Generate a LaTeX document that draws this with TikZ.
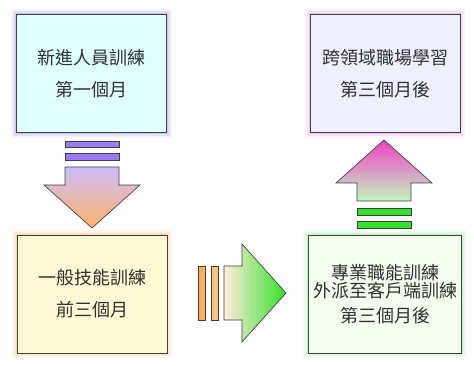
\documentclass[tikz,border=0pt]{standalone}
\usepackage{fontspec}
\usepackage{xcolor}
\usepackage{tikz}
\usetikzlibrary{positioning}
\newfontfamily\tcfont{Noto Sans CJK TC}
\definecolor{bcyan}{HTML}{E0FFFF}
\definecolor{blav}{HTML}{EEF0FF}
\definecolor{byellow}{HTML}{FFF8D4}
\definecolor{bgreen}{HTML}{F5FFF0}
\definecolor{gpurple}{HTML}{B4A0F0}
\definecolor{gpink}{HTML}{F0A0F0}
\definecolor{gorange}{HTML}{FFC080}
\definecolor{ggreen}{HTML}{A0F0A0}
\definecolor{bdark}{HTML}{404040}
\definecolor{apurple}{HTML}{9A7CF4}
\definecolor{aorange}{HTML}{FFA54F}
\definecolor{agreen}{HTML}{33E02A}
\definecolor{amagenta}{HTML}{F040C8}
\definecolor{txt}{HTML}{303030}

\begin{document}
\begin{tikzpicture}[x=0.75pt, y=-0.75pt,
    glow/.style={preaction={draw=#1, line width=8pt, opacity=.12},
                 preaction={draw=#1, line width=5pt, opacity=.25},
                 preaction={draw=#1, line width=2pt, opacity=.45}},
    mybox/.style={rectangle, draw=bdark, line width=0.6pt, minimum width=112.5pt, minimum height=88.5pt, font=\tcfont\fontsize{13.5}{14}\selectfont, text=txt, align=center},
    bar/.style={draw=bdark, line width=0.5pt},
    blockarr/.style={draw=bdark, line width=0.5pt, line join=miter}
]
    \useasboundingbox (0,0) rectangle (474,366);

    \node[mybox, fill=bcyan, glow=gpurple] (newbie) at (91.5,73.5) {新進人員訓練\\[10pt]第一個月};
    \node[mybox, fill=blav, glow=gpink] (crossfield) at (385,73.5) {跨領域職場學習\\[10pt]第三個月後};
    \node[mybox, fill=byellow, glow=gorange] (general) at (92,294) {一般技能訓練\\[10pt]前三個月};
    \node[mybox, fill=bgreen, glow=ggreen] (special) at (385,294) {專業職能訓練\\外派至客戶端訓練\\[4.5pt]第三個月後};

    % down arrow
    \filldraw[bar, fill=apurple] (65,141) rectangle (119,147);
    \filldraw[bar, fill=apurple] (65,153) rectangle (119,160);
    \draw[blockarr, top color=apurple!50, middle color=white, bottom color=aorange!85]
        (65,167) -- (119,167) -- (119,185) -- (140,185) -- (92,228) -- (44,185) -- (65,185) -- cycle;

    % right arrow
    \filldraw[bar, fill=aorange!90] (198,266) rectangle (205,320);
    \filldraw[bar, fill=aorange!70] (211,266) rectangle (218,320);
    \draw[blockarr, left color=aorange!20, middle color=white, right color=agreen]
        (224,266) -- (242,266) -- (242,244) -- (286,293) -- (242,342) -- (242,320) -- (224,320) -- cycle;

    % up arrow
    \filldraw[bar, fill=agreen] (357,208) rectangle (411,215);
    \filldraw[bar, fill=agreen] (357,221) rectangle (411,228);
    \draw[blockarr, top color=amagenta, middle color=white, bottom color=agreen!30]
        (357,201) -- (357,183) -- (336,183) -- (384,140) -- (432,183) -- (411,183) -- (411,201) -- cycle;
\end{tikzpicture}
\end{document}
